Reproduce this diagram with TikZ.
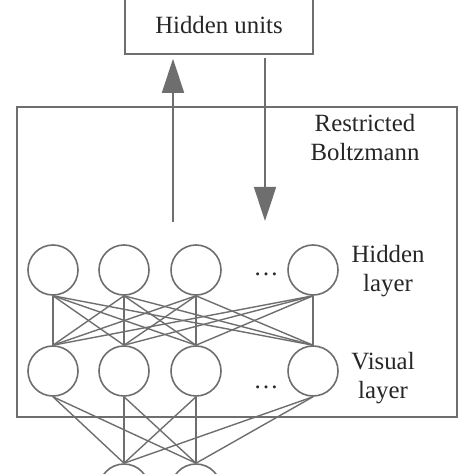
\documentclass[tikz,border=0pt]{standalone}
\usepackage{fontspec}
\setmainfont{Liberation Serif}
\usetikzlibrary{arrows.meta}
\definecolor{wiregray}{HTML}{6E6E6E}
\definecolor{textgray}{HTML}{262626}

\begin{document}
\begin{tikzpicture}[x=0.5pt,y=-0.5pt,line width=0.8pt,draw=wiregray,
    every node/.style={text=textgray,font=\fontsize{12.4}{14.5}\selectfont},
    unit node/.style={circle,draw=wiregray,inner sep=0pt,minimum size=25pt},
    dots node/.style={anchor=base,inner sep=0pt,font=\fontsize{12.5}{12.5}\selectfont},
    wire/.style={draw=wiregray,line width=0.7pt},
    flow/.style={draw=wiregray,-{Triangle[length=17pt,width=11pt]},fill=wiregray}]
    \useasboundingbox (0,0) rectangle (474,474);
    \clip (0,0) rectangle (474,474);

    % top box and the RBM frame
    \node[draw=wiregray,minimum width=94pt,minimum height=29pt] (hu) at (219,25) {Hidden units};
    \node[draw=wiregray,minimum width=220pt,minimum height=155pt] (rbm) at (237,262) {};
    \node[align=center] (rbmlabel) at (365,138) {Restricted\\Boltzmann};

    % hidden layer
    \node[unit node] (h1) at (53,270) {};
    \node[unit node] (h2) at (124,270) {};
    \node[unit node] (h3) at (196,270) {};
    \node[unit node] (h4) at (313,270) {};
    \node[dots node] (hdots) at (266,276) {\ldots};
    \node[align=center] (hlabel) at (388,271) {Hidden\\layer};

    % visual layer
    \node[unit node] (v1) at (53,371) {};
    \node[unit node] (v2) at (124,371) {};
    \node[unit node] (v3) at (196,371) {};
    \node[unit node] (v4) at (313,371) {};
    \node[dots node] (vdots) at (266,388) {\ldots};
    \node[align=center] (vlabel) at (383,378) {Visual\\layer};

    % units below the frame
    \node[unit node] (i1) at (124,489) {};
    \node[unit node] (i2) at (196,489) {};

    % up and down arrows
    \coordinate (upfoot) at (173,222);
    \coordinate (downfoot) at (265,221);
    \draw[flow,shorten >=2pt] (upfoot) -- (upfoot |- hu.south);
    \draw[flow,shorten <=1.5pt] (hu.south -| downfoot) -- (downfoot);

    \path[wire]
        (h1.south) edge (v1.north)
        (h1.south) edge (v2.north)
        (h1.south) edge (v3.north)
        (h1.south) edge (v4.north)
        (h2.south) edge (v1.north)
        (h2.south) edge (v2.north)
        (h2.south) edge (v3.north)
        (h2.south) edge (v4.north)
        (h3.south) edge (v1.north)
        (h3.south) edge (v2.north)
        (h3.south) edge (v3.north)
        (h3.south) edge (v4.north)
        (h4.south) edge (v1.north)
        (h4.south) edge (v2.north)
        (h4.south) edge (v3.north)
        (h4.south) edge (v4.north)
        (v1.south) edge (i1.north)
        (v1.south) edge (i2.north)
        (v2.south) edge (i1.north)
        (v2.south) edge (i2.north)
        (v3.south) edge (i1.north)
        (v3.south) edge (i2.north)
        (v4.south) edge (i1.north)
        (v4.south) edge (i2.north)
        ;
\end{tikzpicture}
\end{document}
